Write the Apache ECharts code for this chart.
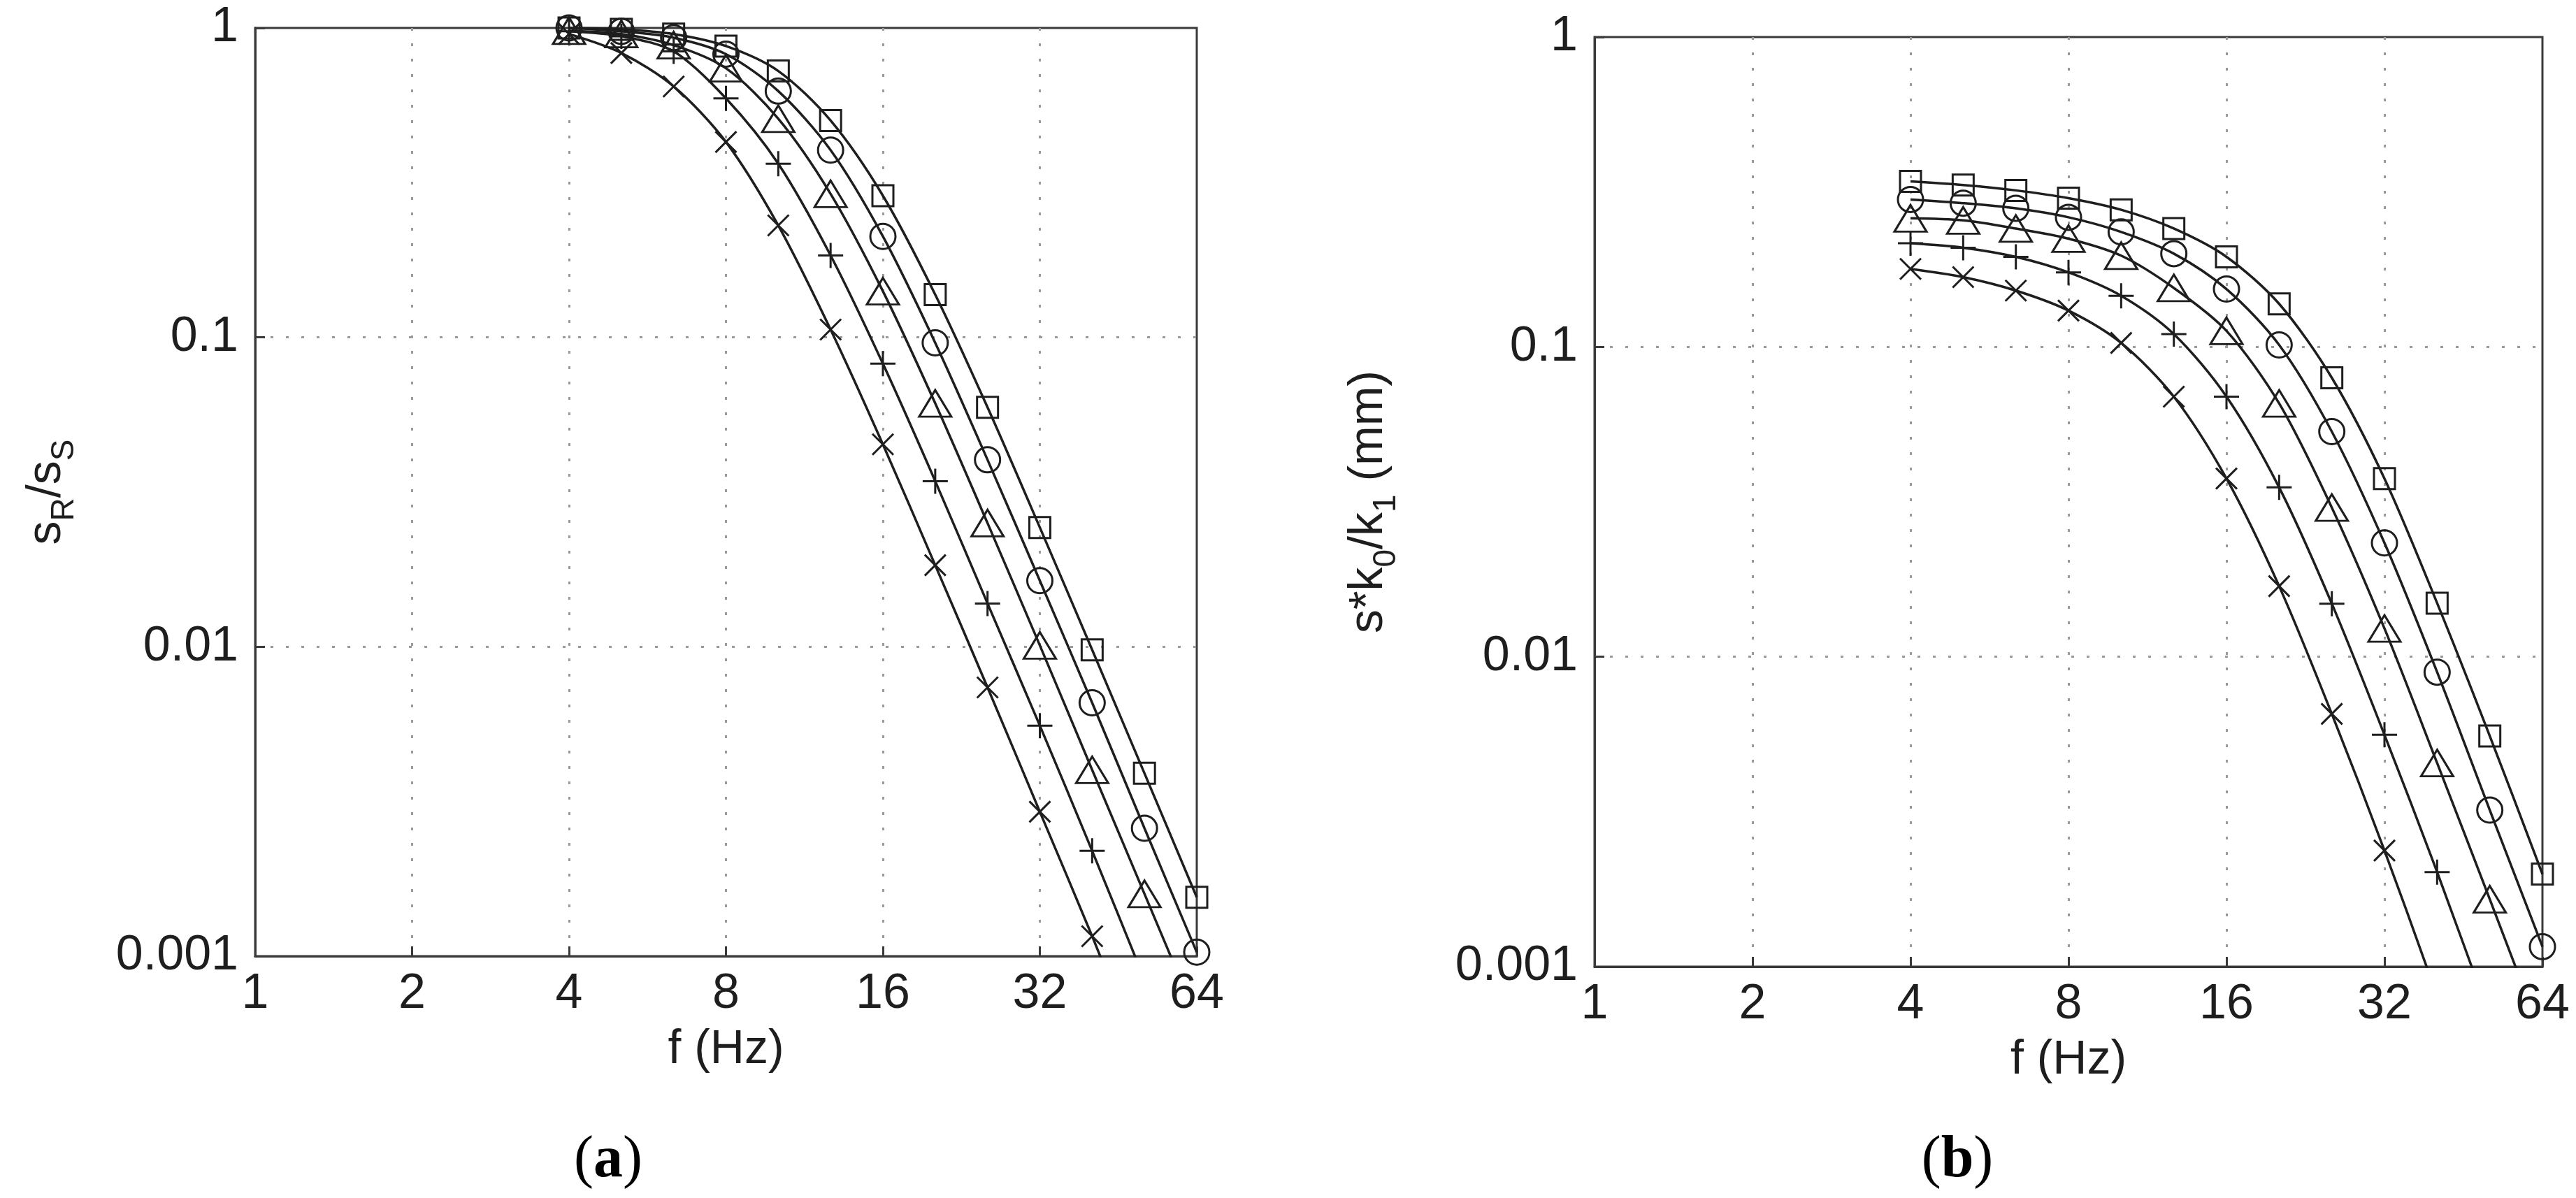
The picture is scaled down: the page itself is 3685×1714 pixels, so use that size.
<!DOCTYPE html>
<html>
<head>
<meta charset="utf-8">
<script src="https://cdn.jsdelivr.net/npm/echarts@6/dist/echarts.min.js"></script>
<style>html,body{margin:0;padding:0;background:#fff;}#c{width:3685px;height:1714px;}</style>
</head>
<body>
<div id="c"></div>
<script>
// third-octave frequencies (Hz)
const freqs = [4, 5.04, 6.35, 8, 10.08, 12.7, 16, 20.16, 25.4, 32, 40.32, 50.8, 64];
const xTickLabels = ['1', '2', '4', '8', '16', '32', '64'];
const yTickLabels = ['1', '0.1', '0.01', '0.001'];

// panel (a): sR/sS
const aSquare   = [1.0, 0.99, 0.956, 0.874, 0.726, 0.502, 0.287, 0.1375, 0.0594, 0.0243, 0.00977, 0.0039, 0.00155];
const aCircle   = [1.0, 0.975, 0.93, 0.823, 0.625, 0.403, 0.212, 0.096, 0.0402, 0.01635, 0.00659, 0.00259, 0.00103];
const aTriangle = [0.98, 0.956, 0.88, 0.741, 0.509, 0.291, 0.141, 0.0612, 0.0251, 0.0101, 0.004, 0.00159, 0.00063];
const aPlus     = [0.975, 0.94, 0.84, 0.592, 0.364, 0.184, 0.0822, 0.0343, 0.0138, 0.00556, 0.00219, 0.00084, 0.00032];
const aCross    = [0.956, 0.83, 0.647, 0.428, 0.23, 0.106, 0.0451, 0.01835, 0.00739, 0.00293, 0.00116, 0.00044, 0.000166];

// panel (b): s*k0/k1 (mm)
const bSquare   = [0.342, 0.333, 0.32, 0.302, 0.277, 0.241, 0.1953, 0.1377, 0.0795, 0.0376, 0.0149, 0.00555, 0.00199];
const bCircle   = [0.299, 0.291, 0.28, 0.262, 0.235, 0.2, 0.1537, 0.1015, 0.0533, 0.0233, 0.00892, 0.0032, 0.00116];
const bTriangle = [0.26, 0.256, 0.241, 0.2235, 0.197, 0.155, 0.1127, 0.0657, 0.0303, 0.01234, 0.00454, 0.00165, 0.00059];
const bPlus     = [0.216, 0.209, 0.1953, 0.174, 0.1462, 0.11, 0.0691, 0.0352, 0.01484, 0.0056, 0.00202, 0.00069, 0.00024];
const bCross    = [0.1785, 0.168, 0.152, 0.131, 0.103, 0.0691, 0.0376, 0.0169, 0.00654, 0.00237, 0.0008, 0.00025, 0.00008];

const INK = '#1e1e1e';
const FRAME = '#3a3a3a';
const FONT = 'Liberation Sans';

const markers = {
  square:   { symbol: 'rect', size: 30 },
  circle:   { symbol: 'circle', size: 36 },
  triangle: { symbol: 'triangle', size: [46, 38] },
  plus:     { symbol: 'path://M10,0L10,20M0,10L20,10', size: 36 },
  cross:    { symbol: 'path://M0,0L20,20M20,0L0,20', size: 30 }
};

function mkSeries(name, values, kind, idx) {
  const m = markers[kind];
  return {
    name: name,
    type: 'line',
    xAxisIndex: idx, yAxisIndex: idx,
    data: freqs.map((f, i) => [f, values[i]]),
    symbol: m.symbol,
    symbolSize: m.size,
    symbolKeepAspect: true,
    showSymbol: true,
    smooth: 0.3,
    clip: true,
    lineStyle: { color: INK, width: 3.5 },
    itemStyle: { color: 'rgba(255,255,255,0)', borderColor: INK, borderWidth: 3 },
    emphasis: { disabled: true },
    z: 5
  };
}

const gridLine = { show: true, showMinLine: false, showMaxLine: false, lineStyle: { type: [4, 18], color: '#9a9a9a', width: 3 } };

function xAx(idx) {
  return {
    type: 'log', logBase: 2, gridIndex: idx,
    min: 1, max: 64, interval: 1,
    name: 'f (Hz)', nameLocation: 'middle', nameGap: 100,
    nameTextStyle: { fontFamily: FONT, fontSize: 68, color: INK },
    axisLine: { show: true, lineStyle: { color: FRAME, width: 3 } },
    axisTick: { show: true, inside: true, length: 14, lineStyle: { color: FRAME, width: 3 } },
    minorTick: { show: false },
    axisLabel: {
      fontFamily: FONT, fontSize: 70, color: INK, margin: 20,
      formatter: v => xTickLabels[Math.round(Math.log2(v))]
    },
    splitLine: gridLine
  };
}

const subRich = {
  m: { fontFamily: FONT, fontSize: 68, color: INK, lineHeight: 96 },
  s: { fontFamily: FONT, fontSize: 46, color: INK, verticalAlign: 'bottom' }
};

function yAx(idx, name, gap) {
  return {
    type: 'log', logBase: 10, gridIndex: idx,
    min: 0.001, max: 1, interval: 1,
    name: name, nameLocation: 'middle', nameGap: gap,
    nameTextStyle: { fontFamily: FONT, fontSize: 68, color: INK, rich: subRich },
    axisLine: { show: true, lineStyle: { color: FRAME, width: 3 } },
    axisTick: { show: true, inside: true, length: 14, lineStyle: { color: FRAME, width: 3 } },
    minorTick: { show: false },
    axisLabel: {
      fontFamily: FONT, fontSize: 70, color: INK, margin: 24,
      formatter: v => yTickLabels[Math.round(-Math.log10(v))]
    },
    splitLine: gridLine
  };
}

const capRich = {
  p: { fontFamily: 'Liberation Serif', fontSize: 84, color: '#111' },
  b: { fontFamily: 'Liberation Serif', fontSize: 84, fontWeight: 'bold', color: '#111' }
};

const option = {
  backgroundColor: '#ffffff',
  animation: false,
  grid: [
    { left: 365, top: 40, width: 1347, height: 1328, show: true, borderColor: FRAME, borderWidth: 3, backgroundColor: 'rgba(0,0,0,0)' },
    { left: 2281, top: 53, width: 1356, height: 1330, show: true, borderColor: FRAME, borderWidth: 3, backgroundColor: 'rgba(0,0,0,0)' }
  ],
  xAxis: [xAx(0), xAx(1)],
  yAxis: [
    yAx(0, '{m|s}{s|R}{m|/s}{s|S}', 250),
    yAx(1, '{m|s*k}{s|0}{m|/k}{s|1}{m| (mm)}', 275)
  ],
  series: [
    mkSeries('a-square', aSquare, 'square', 0),
    mkSeries('a-circle', aCircle, 'circle', 0),
    mkSeries('a-triangle', aTriangle, 'triangle', 0),
    mkSeries('a-plus', aPlus, 'plus', 0),
    mkSeries('a-cross', aCross, 'cross', 0),
    mkSeries('b-square', bSquare, 'square', 1),
    mkSeries('b-circle', bCircle, 'circle', 1),
    mkSeries('b-triangle', bTriangle, 'triangle', 1),
    mkSeries('b-plus', bPlus, 'plus', 1),
    mkSeries('b-cross', bCross, 'cross', 1)
  ],
  graphic: [
    { type: 'text', x: 870, y: 1661, style: { text: '{p|(}{b|a}{p|)}', rich: capRich, textAlign: 'center', textVerticalAlign: 'middle', align: 'center', verticalAlign: 'middle' } },
    { type: 'text', x: 2800, y: 1661, style: { text: '{p|(}{b|b}{p|)}', rich: capRich, textAlign: 'center', textVerticalAlign: 'middle', align: 'center', verticalAlign: 'middle' } }
  ]
};

const chart = echarts.init(document.getElementById('c'), null, { renderer: 'canvas' });
chart.setOption(option);
</script>
</body>
</html>
